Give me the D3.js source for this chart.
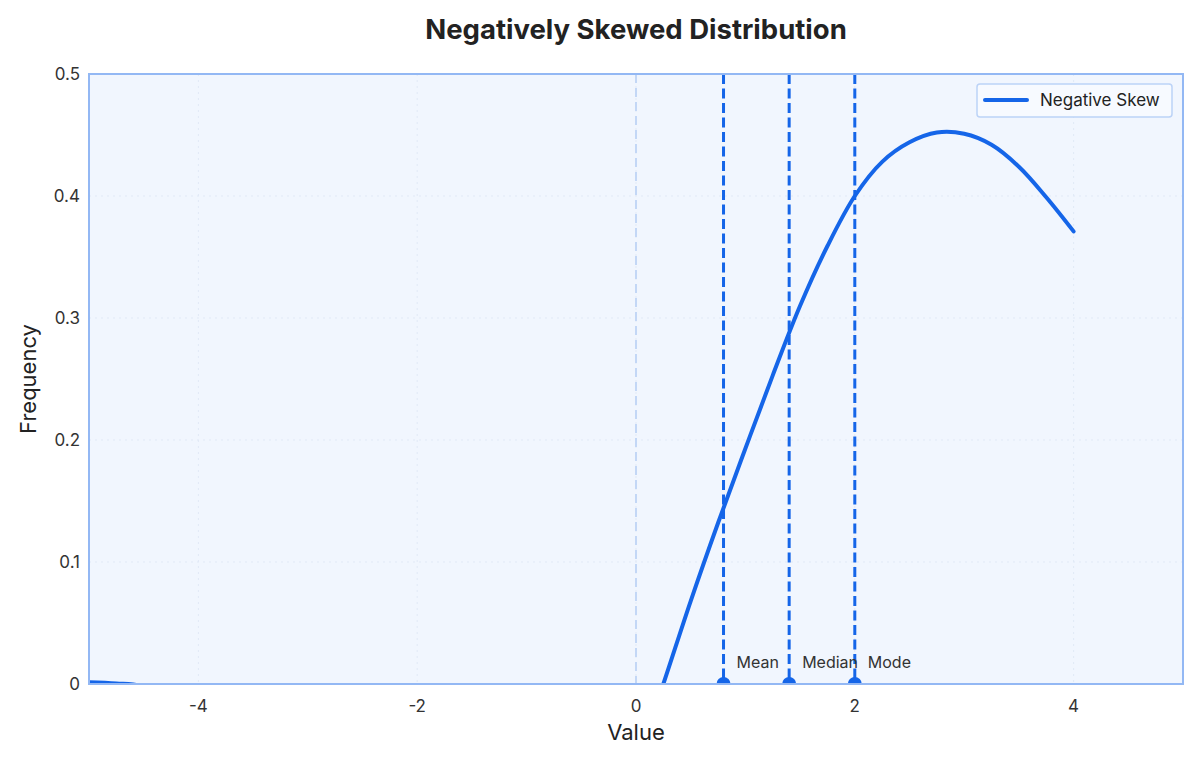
<!DOCTYPE html>
<html>
<head>
<meta charset="utf-8">
<script src="https://cdn.jsdelivr.net/npm/d3@7"></script>
<style>
  body { margin: 0; background: #fff; font-family: "Inter", "Lato", sans-serif; }
</style>
</head>
<body>
<div id="chart"></div>
<script>
// curve samples (x, frequency); the part below 0 is clipped away
var xValues = [-5, -4.75, -4.5, -4, -3, -2, -1, -0.5, 0, 0.25, 0.5, 0.75, 1, 1.25, 1.5, 1.75, 2, 2.25, 2.5, 2.75, 3, 3.25, 3.5, 3.75, 4];
var yValues = [0.0015, 0.0005, -0.002, -0.02, -0.07, -0.115, -0.13, -0.11, -0.066, 0, 0.068, 0.132, 0.193, 0.253, 0.31, 0.359, 0.40, 0.428, 0.444, 0.452, 0.451, 0.442, 0.424, 0.399, 0.371];
var statNames = ["Mean", "Median", "Mode"];
var statValues = [0.8, 1.4, 2.0];
var xTicks = [-4, -2, 0, 2, 4];
var yTicks = [0, 0.1, 0.2, 0.3, 0.4, 0.5];

var blue = "#1565e8";

var margin = {top: 74, right: 17, bottom: 77, left: 89};
var width = 1200 - margin.left - margin.right;
var height = 761 - margin.top - margin.bottom;

var svgRoot = d3.select("#chart").append("svg").attr("width", 1200).attr("height", 761);
var svg = svgRoot.append("g").attr("transform", "translate(" + margin.left + "," + margin.top + ")");

var x = d3.scaleLinear().domain([-5, 5]).range([0, width]);
var y = d3.scaleLinear().domain([0, 0.5]).range([height, 0]);

svg.append("defs").append("clipPath").attr("id", "clip")
    .append("rect").attr("width", width).attr("height", height);

// plot background
svg.append("rect").attr("width", width).attr("height", height).style("fill", "#f1f6fe");

// grid
svg.selectAll(".vgrid").data(xTicks).enter().append("line")
    .attr("x1", d => x(d)).attr("x2", d => x(d)).attr("y1", 0).attr("y2", height)
    .style("stroke", "#e1e9f6").style("stroke-width", 1).style("stroke-dasharray", "2,4");
svg.selectAll(".hgrid").data(yTicks).enter().append("line")
    .attr("x1", 0).attr("x2", width).attr("y1", d => y(d)).attr("y2", d => y(d))
    .style("stroke", "#e1e9f6").style("stroke-width", 1).style("stroke-dasharray", "2,4");

// zero reference line
svg.append("line").attr("x1", x(0)).attr("x2", x(0)).attr("y1", 0).attr("y2", height)
    .style("stroke", "#c3d7f6").style("stroke-width", 2).style("stroke-dasharray", "9,5");

var plot = svg.append("g").attr("clip-path", "url(#clip)");

var points = xValues.map(function (d, i) { return [d, yValues[i]]; });
var line = d3.line().x(d => x(d[0])).y(d => y(d[1])).curve(d3.curveCatmullRom);

plot.append("path").datum(points).attr("d", line)
    .style("fill", "none").style("stroke", blue).style("stroke-width", 4)
    .style("stroke-linecap", "round");

// mean / median / mode lines
statValues.forEach(function (v, i) {
    plot.append("line").attr("x1", x(v)).attr("x2", x(v)).attr("y1", 0).attr("y2", height)
        .style("stroke", blue).style("stroke-width", 3).style("stroke-dasharray", "10,4.5");
    plot.append("circle").attr("cx", x(v)).attr("cy", height).attr("r", 7).style("fill", blue);
    svg.append("text").attr("x", x(v) + 13).attr("y", height - 16)
        .style("font-size", "16px").style("fill", "#333").text(statNames[i]);
});

// frame
svg.append("rect").attr("width", width).attr("height", height)
    .style("fill", "none").style("stroke", "#93b8f4").style("stroke-width", 2);

// tick labels
svg.selectAll(".xt").data(xTicks).enter().append("text")
    .attr("x", d => x(d)).attr("y", height + 28).attr("text-anchor", "middle")
    .style("font-size", "17px").style("fill", "#333").text(d => d);
svg.selectAll(".yt").data(yTicks).enter().append("text")
    .attr("x", -9).attr("y", d => y(d) + 6).attr("text-anchor", "end")
    .style("font-size", "17px").style("fill", "#333").text(d => d);

// axis titles
svg.append("text").attr("x", width / 2).attr("y", height + 56).attr("text-anchor", "middle")
    .style("font-size", "22px").style("fill", "#222").text("Value");
svgRoot.append("text").attr("transform", "translate(36," + (margin.top + height / 2) + ") rotate(-90)")
    .attr("text-anchor", "middle").style("font-size", "22px").style("fill", "#222").text("Frequency");

// title
svgRoot.append("text").attr("x", 636).attr("y", 39).attr("text-anchor", "middle")
    .style("font-size", "27.5px").style("font-weight", "bold").style("fill", "#222")
    .text("Negatively Skewed Distribution");

// legend
var legend = svg.append("g").attr("transform", "translate(" + (width - 206) + ",10)");
legend.append("rect").attr("width", 195).attr("height", 33).attr("rx", 3)
    .style("fill", "#f7faff").style("stroke", "#bcd3f7").style("stroke-width", 1.5);
legend.append("line").attr("x1", 8).attr("x2", 50).attr("y1", 16).attr("y2", 16)
    .style("stroke", blue).style("stroke-width", 4).style("stroke-linecap", "round");
legend.append("text").attr("x", 63).attr("y", 22).style("font-size", "17px").style("fill", "#222")
    .text("Negative Skew");
</script>
</body>
</html>
